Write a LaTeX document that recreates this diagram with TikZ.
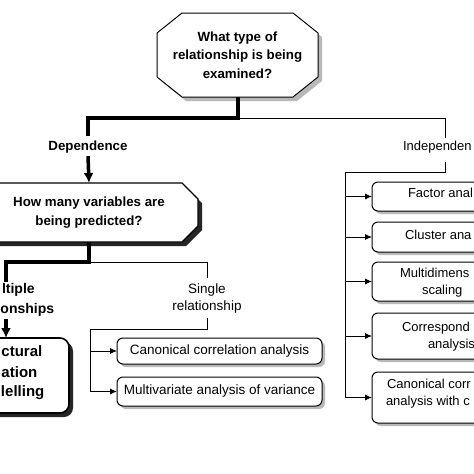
\documentclass[tikz,border=0pt]{standalone}
\usepackage{fontspec}
\setmainfont{Liberation Sans}
\usetikzlibrary{calc,arrows.meta,shadows}
\begin{document}
\begin{tikzpicture}[x=1pt,y=-1pt,
  every node/.style={inner sep=0pt, outer sep=0pt},
  nf/.style={font=\fontsize{13.5}{17}\selectfont, align=center},
  sf/.style={font=\fontsize{13}{17}\selectfont},
  bf/.style={font=\bfseries\fontsize{13.3}{18.5}\selectfont, align=center},
  mf/.style={font=\bfseries\fontsize{14}{20}\selectfont},
  bigf/.style={font=\bfseries\fontsize{15}{21}\selectfont},
  conn/.style={line width=0.9pt},
  heavy/.style={line width=3.5pt},
  tip/.style={-{Latex[length=7pt,width=6pt]}},
  bigtip/.style={-{Latex[length=10pt,width=10pt]}},
  rbox/.style={draw, line width=1pt, fill=white, rounded corners=6pt,
    drop shadow={shadow xshift=3pt, shadow yshift=-3pt, fill=gray!55, opacity=1}},
  sembox/.style={draw, line width=1.6pt, fill=white, rounded corners=9pt,
    drop shadow={shadow xshift=4pt, shadow yshift=-4pt, fill=black!85, opacity=1}},
]
\useasboundingbox (0,0) rectangle (474,474);
\fill[white] (0,0) rectangle (474,474);
\clip (0,0) rectangle (474,474);

% ---- top octagon
\begin{scope}[shift={(4,4)}]
  \fill[gray!55] (182,13) -- (293,13) -- (318,33) -- (318,77) -- (293,97) -- (182,97) -- (157,77) -- (157,33) -- cycle;
\end{scope}
\draw[line width=1pt, fill=white] (182,13) -- (293,13) -- (318,33) -- (318,77) -- (293,97) -- (182,97) -- (157,77) -- (157,33) -- cycle;
\node[bf, minimum width=161pt, minimum height=84pt] (q1) at (237.5,55) {What type of\\relationship is being\\examined?};

% ---- second question box
\begin{scope}[shift={(4,4)}]
  \fill[black!85] (-6,183) -- (182,183) -- (198,199) -- (198,226) -- (182,242) -- (-6,242) -- (-22,226) -- (-22,199) -- cycle;
\end{scope}
\draw[line width=1.2pt, fill=white] (-6,183) -- (182,183) -- (198,199) -- (198,226) -- (182,242) -- (-6,242) -- (-22,226) -- (-22,199) -- cycle;
\node[bf, minimum width=220pt, minimum height=59pt] (q2) at (89,212.5) {How many variables are\\being predicted?};

% ---- labels
\node[bf] (dep) at (88,147) {Dependence};
\node[sf, anchor=west] (ind) at (403,147) {Independen};
\node[nf] (sgl) at (207,298.5) {Single\\relationship};
\node[mf, anchor=west] (m1) at (2,289.5) {ltiple};
\node[mf, anchor=west] (m2) at (0.5,310) {onships};

% ---- structural equation modelling box
\node[sembox, minimum width=140pt, minimum height=75pt] (sem) at (-1,375.5) {};
\node[bigf, anchor=west] (s1) at (1.5,351) {ctural};
\node[bigf, anchor=west] (s2) at (1.5,372) {ation};
\node[bigf, anchor=west] (s3) at (1,393) {lelling};

% ---- dependence / single relationship boxes
\node[rbox, nf, minimum width=205pt, minimum height=26pt] (c1) at (219.5,351) {Canonical correlation analysis};
\node[rbox, nf, minimum width=205pt, minimum height=29pt] (c2) at (219.5,391.5) {Multivariate analysis of variance};

% ---- independence boxes
\node[rbox, anchor=west, minimum width=230pt, minimum height=29pt] (r1) at (372,196.5) {};
\node[rbox, anchor=west, minimum width=230pt, minimum height=30pt] (r2) at (372,237) {};
\node[rbox, anchor=west, minimum width=230pt, minimum height=39pt] (r3) at (372,281.5) {};
\node[rbox, anchor=west, minimum width=230pt, minimum height=46pt] (r4) at (372,336) {};
\node[rbox, anchor=west, minimum width=230pt, minimum height=51pt] (r5) at (372,397.5) {};
\node[sf, anchor=west] (t1) at (408,193) {Factor anal};
\node[sf, anchor=west] (t2) at (405,235) {Cluster ana};
\node[sf, anchor=west] (t3a) at (400,273) {Multidimens};
\node[sf, anchor=west] (t3b) at (422,291) {scaling};
\node[sf, anchor=west] (t4a) at (402,328) {Correspond};
\node[sf, anchor=west] (t4b) at (428,345) {analysis};
\node[sf, anchor=west] (t5a) at (387,384) {Canonical corr};
\node[sf, anchor=west] (t5b) at (386,402) {analysis with c};

% ---- coordinates
\coordinate (j1) at (238,118);
\coordinate (indtop) at (445,138);
\coordinate (indbot) at (445,162);
\coordinate (iv) at (345,172);
\coordinate (j2) at (89,262);
\coordinate (mtop) at (6,282);
\coordinate (mtip) at (6,319);
\coordinate (sv) at (90,329);

% ---- connectors
\draw[heavy] (j1 |- q1.south) -- (j1) -| ([yshift=5pt]dep.north);
\draw[conn] (j1) -| (indtop);
\draw[heavy, bigtip] ([yshift=-3pt]dep.south) -- (q2.north);
\draw[heavy] (q2.south) -- (j2) -| (mtop);
\draw[conn] (j2) -| ([yshift=6pt]sgl.north);
\draw[heavy, bigtip] (mtip) -- (mtip |- sem.north);
\draw[conn] ([yshift=-5pt]sgl.south) |- (sv) -- (sv |- c2.west);
\draw[conn, tip] (sv |- c1.west) -- (c1.west);
\draw[conn, tip] (sv |- c2.west) -- (c2.west);
\draw[conn] (indbot) |- (iv) -- (iv |- r5.west);
\draw[conn, tip] (iv |- r1.west) -- (r1.west);
\draw[conn, tip] (iv |- r2.west) -- (r2.west);
\draw[conn, tip] (iv |- r3.west) -- (r3.west);
\draw[conn, tip] (iv |- r4.west) -- (r4.west);
\draw[conn, tip] (iv |- r5.west) -- (r5.west);
\end{tikzpicture}
\end{document}
